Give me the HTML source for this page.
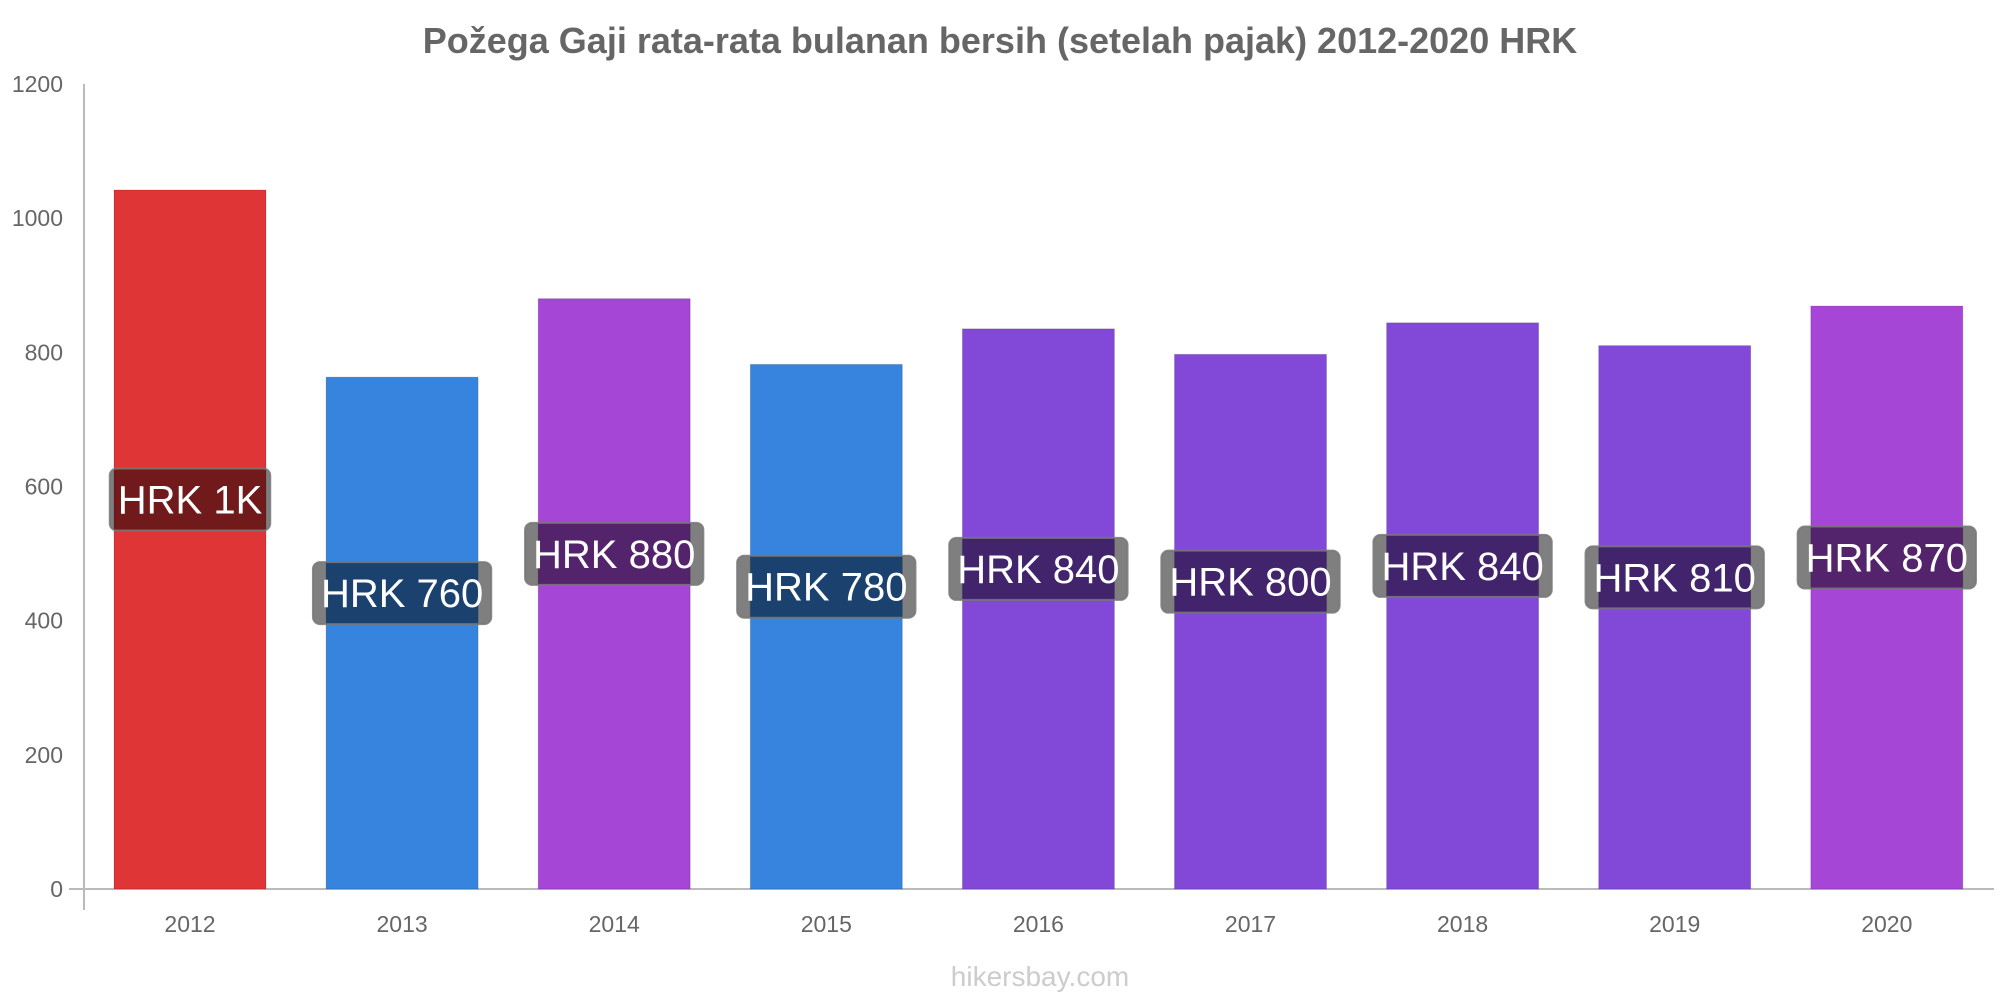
<!DOCTYPE html>
<html><head><meta charset="utf-8"><style>
body{margin:0;background:#fff;}
svg{display:block;font-family:"Liberation Sans",sans-serif;}
</style></head><body>
<svg id="chart" width="2000" height="1000">
<text x="1000" y="53" text-anchor="middle" font-size="36" font-weight="bold" fill="#666">Požega Gaji rata-rata bulanan bersih (setelah pajak) 2012-2020 HRK</text>
<g id="axes"></g><g id="bars"></g><g id="labels"></g>
<text x="1040" y="986" text-anchor="middle" font-size="28" fill="#ccc">hikersbay.com</text>
</svg>
<script>
const categories=["2012","2013","2014","2015","2016","2017","2018","2019","2020"];
const values=[1042,763,880,782,835,797,844,810,869];
const valueLabels=["HRK 1K","HRK 760","HRK 880","HRK 780","HRK 840","HRK 800","HRK 840","HRK 810","HRK 870"];
const yTicks=[0,200,400,600,800,1000,1200];
const colors=["#e03536","#3784de","#a646d6","#3784de","#8249d9","#8249d9","#8249d9","#8249d9","#a646d6"];
const NS="http://www.w3.org/2000/svg";
const x0=84,x1=1994,yTop=84,yBot=889,yMax=1200,step=212.1,firstC=190,bw=152;
const y=v=>yBot-(v/yMax)*(yBot-yTop);
const xc=i=>firstC+i*step;
function mk(tag,attrs,parent,text){const e=document.createElementNS(NS,tag);for(const k in attrs)e.setAttribute(k,attrs[k]);if(text!==undefined)e.textContent=text;parent.appendChild(e);return e;}
const ax=document.getElementById('axes'),bg=document.getElementById('bars'),lg=document.getElementById('labels');
let l=mk('line',{x1:x0,y1:yTop,x2:x0,y2:910,stroke:'#bbb','stroke-width':2},ax);


l=mk('line',{x1:x0-15,y1:yBot,x2:x1,y2:yBot,stroke:'#bbb','stroke-width':2},ax);


yTicks.forEach(t=>{
 const e=mk('text',{x:63,y:y(t)+8,'text-anchor':'end','font-size':23,fill:'#666'},ax,String(t));
 
 
});
categories.forEach((c,i)=>{
 const top=y(values[i]);
 const r=mk('rect',{x:xc(i)-bw/2,y:top,width:bw,height:yBot-top,fill:colors[i],stroke:'rgba(0,0,0,0.15)','stroke-width':1},bg);
 
 
 const t=mk('text',{x:xc(i),y:932,'text-anchor':'middle','font-size':23,fill:'#666'},ax,c);
 
 
 const cy=(top+yBot)/2-40;
 const g=mk('g',{},lg);
 
 
 const txt=mk('text',{x:xc(i),y:cy+14,'text-anchor':'middle','font-size':40,fill:'#fff'},g,valueLabels[i]);
 const w=txt.getComputedTextLength()+16;
 const box=mk('rect',{x:xc(i)-w/2,y:cy-31,width:w,height:62,rx:7,fill:'rgba(0,0,0,0.5)',stroke:'rgba(120,120,120,0.85)','stroke-width':2},g);
 g.insertBefore(box,txt);
});
</script>
</body></html>
